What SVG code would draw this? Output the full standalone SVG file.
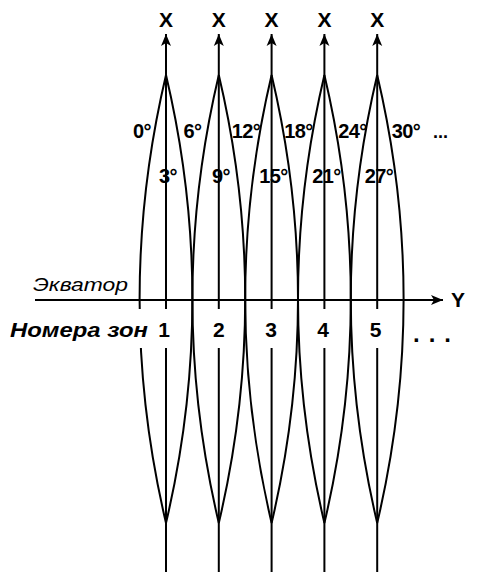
<svg xmlns="http://www.w3.org/2000/svg" width="477" height="576" viewBox="0 0 477 576">
<style>
.ln{fill:none;stroke:#000;stroke-width:2}
.t{font-family:"Liberation Sans",Arial,sans-serif;fill:#000;font-weight:bold}
.m{text-anchor:middle}
.deg{font-size:20px;letter-spacing:-0.5px}
</style>
<defs>
<marker id="ah" viewBox="-13 -6 14 12" refX="0" refY="0" markerWidth="14" markerHeight="12" markerUnits="userSpaceOnUse" orient="auto">
<path d="M0,0 L-12,-5 L-9,0 L-12,5 Z" fill="#000"/>
</marker>
</defs>
<rect width="477" height="576" fill="#fff"/>
<g id="connectors">
<line class="ln" x1="166" y1="572" x2="166" y2="34" marker-end="url(#ah)"/>
<line class="ln" x1="218.8" y1="572" x2="218.8" y2="34" marker-end="url(#ah)"/>
<line class="ln" x1="271.6" y1="572" x2="271.6" y2="34" marker-end="url(#ah)"/>
<line class="ln" x1="324.4" y1="572" x2="324.4" y2="34" marker-end="url(#ah)"/>
<line class="ln" x1="377.2" y1="572" x2="377.2" y2="34" marker-end="url(#ah)"/>
<path class="ln" d="M166,75 Q139.6,187 139.6,299 Q139.6,411 166,523 M166,75 Q192.4,187 192.4,299 Q192.4,411 166,523"/>
<path class="ln" d="M218.8,75 Q192.4,187 192.4,299 Q192.4,411 218.8,523 M218.8,75 Q245.2,187 245.2,299 Q245.2,411 218.8,523"/>
<path class="ln" d="M271.6,75 Q245.2,187 245.2,299 Q245.2,411 271.6,523 M271.6,75 Q298,187 298,299 Q298,411 271.6,523"/>
<path class="ln" d="M324.4,75 Q298,187 298,299 Q298,411 324.4,523 M324.4,75 Q350.8,187 350.8,299 Q350.8,411 324.4,523"/>
<path class="ln" d="M377.2,75 Q350.8,187 350.8,299 Q350.8,411 377.2,523 M377.2,75 Q403.6,187 403.6,299 Q403.6,411 377.2,523"/>
<line class="ln" x1="35" y1="300" x2="443" y2="300" marker-end="url(#ah)"/>
</g>
<g id="axis-labels">
<text class="t m" x="166" y="27" font-size="21">X</text>
<text class="t m" x="218.8" y="27" font-size="21">X</text>
<text class="t m" x="271.6" y="27" font-size="21">X</text>
<text class="t m" x="324.4" y="27" font-size="21">X</text>
<text class="t m" x="377.2" y="27" font-size="21">X</text>
<text class="t m" x="458" y="307" font-size="21">Y</text>
</g>
<g id="boundary-degrees">
<text class="t m deg" x="142" y="138">0°</text>
<text class="t m deg" x="192.5" y="138">6°</text>
<text class="t m deg" x="246" y="138">12°</text>
<text class="t m deg" x="298.5" y="138">18°</text>
<text class="t m deg" x="352.5" y="138">24°</text>
<text class="t m deg" x="406" y="138">30°</text>
<text class="t" x="433" y="138" font-size="18" font-weight="normal">...</text>
</g>
<g id="central-degrees">
<text class="t m deg" x="168" y="183">3°</text>
<text class="t m deg" x="221" y="183">9°</text>
<text class="t m deg" x="273.5" y="183">15°</text>
<text class="t m deg" x="326.5" y="183">21°</text>
<text class="t m deg" x="379" y="183">27°</text>
</g>
<g id="equator-label">
<text x="33" y="291" font-family="'Liberation Sans',Arial,sans-serif" font-style="italic" font-size="19" textLength="95" lengthAdjust="spacingAndGlyphs">Экватор</text>
</g>
<g id="zone-1">
<rect x="130" y="309" width="48" height="39" fill="#fff"/>
<text class="t" x="10" y="337" font-style="italic" font-size="20" textLength="138" lengthAdjust="spacingAndGlyphs">Номера зон</text>
<text class="t m" x="164" y="337" font-size="21">1</text>
</g>
<g id="zone-2">
<rect x="205" y="309" width="28" height="39" fill="#fff"/>
<text class="t m" x="218.8" y="337" font-size="21">2</text>
</g>
<g id="zone-3">
<rect x="258" y="309" width="28" height="39" fill="#fff"/>
<text class="t m" x="271" y="337" font-size="21">3</text>
</g>
<g id="zone-4">
<rect x="311" y="309" width="28" height="39" fill="#fff"/>
<text class="t m" x="323" y="337" font-size="21">4</text>
</g>
<g id="zone-5">
<rect x="364" y="309" width="28" height="39" fill="#fff"/>
<text class="t m" x="375.5" y="337" font-size="21">5</text>
</g>
<g id="more-zones">
<text class="t" x="413" y="342" font-size="24" letter-spacing="9">...</text>
</g>
</svg>
